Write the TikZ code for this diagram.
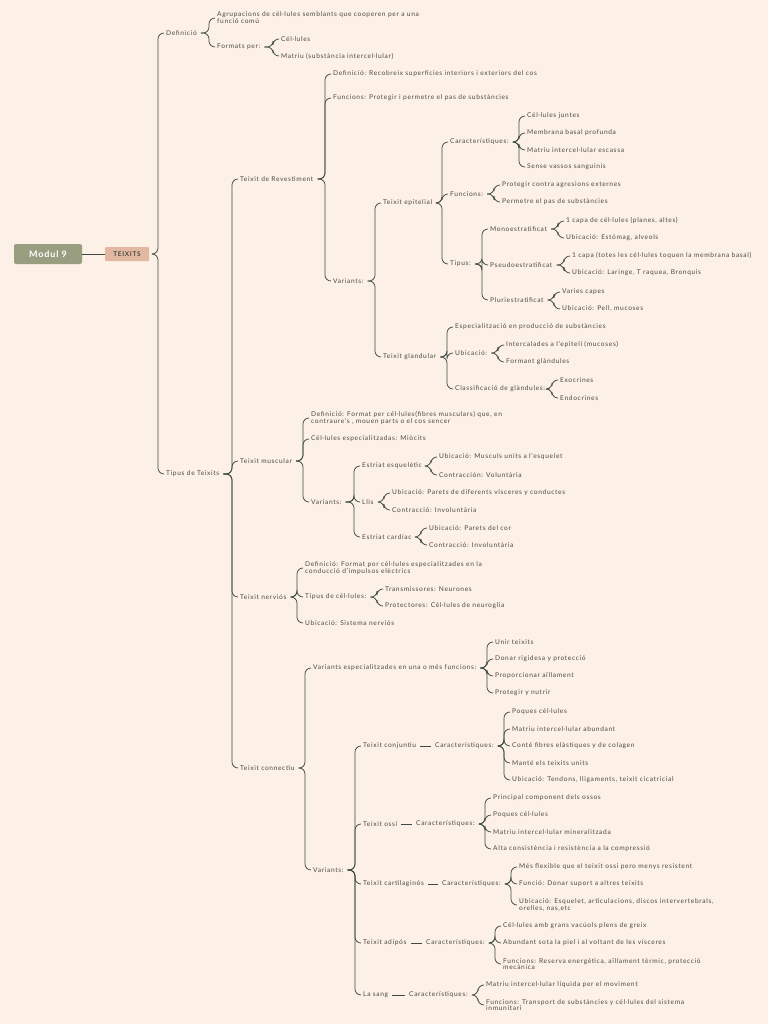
\documentclass[tikz,border=0pt]{standalone}
\usepackage{fontspec}
\setmainfont{Lato}[LetterSpace=10]
\usetikzlibrary{calc}
\definecolor{bg}{HTML}{FDF0E6}
\definecolor{ln}{HTML}{3B4A44}
\definecolor{tx}{HTML}{4A4A48}
\definecolor{olive}{HTML}{9A9E80}
\definecolor{peach}{HTML}{E2B9A0}
\tikzset{t/.style={anchor=west,inner sep=0pt,font=\fontsize{6.6}{6.8}\selectfont,text=tx,align=left},
conn/.style={draw=ln,line width=0.75pt,rounded corners=6pt}}
\newcommand\br[2]{\path (#2.west) ++(-8,0) coordinate (tmpA);
 \draw[conn] (#1.east) ++(4,0) -- (tmpA |- #1.east) |- ([xshift=-2]#2.west);}
\newcommand\brs[2]{\foreach \c in {#2}{\br{#1}{\c}}}
\newcommand\st[2]{\draw[conn] ([xshift=4]#1.east) -- ([xshift=-4]#2.west);}
\begin{document}
\begin{tikzpicture}[x=1pt,y=-1pt]
\fill[bg] (0,0) rectangle (768,1024);
\useasboundingbox (0,0) rectangle (768,1024);
\node[fill=olive,rounded corners=2pt,minimum width=68pt,minimum height=20pt,text=white,font=\fontsize{9}{10}\selectfont\bfseries] (m) at (48,254) {Modul 9};
\node[fill=peach,rounded corners=1pt,minimum width=44pt,minimum height=14pt,text=tx,font=\fontsize{6.5}{7}\selectfont\bfseries] (te) at (127,254) {TEIXITS};
\draw[conn] (m.east) -- (te.west);
% level 1
\node[t] (def) at (166,33) {Definició};
\node[t] (tip) at (166,474) {Tipus de Teixits};
\brs{te}{def,tip}
\node[t] (agr) at (217,18) {Agrupacions de cél·lules semblants que cooperen per a una\\funció comú};
\node[t] (fp) at (217,47) {Formats per:};
\brs{def}{agr,fp}
\node[t] (cel) at (281,39) {Cél·lules};
\node[t] (mat) at (281,56) {Matriu (substància intercel·lular)};
\brs{fp}{cel,mat}
% tipus
\node[t] (rev) at (240,179) {Teixit de Revestiment};
\node[t] (mus) at (240,461) {Teixit muscular};
\node[t] (ner) at (240,597) {Teixit nerviós};
\node[t] (con) at (240,768) {Teixit connectiu};
\brs{tip}{rev,mus,ner,con}
% revestiment
\node[t] (r1) at (333,74) {Definició: Recobreix superfícies interiors i exteriors del cos};
\node[t] (r2) at (333,98) {Funcions: Protegir i permetre el pas de substàncies};
\node[t] (r3) at (333,281) {Variants:};
\brs{rev}{r1,r2,r3}
\node[t] (epi) at (383,203) {Teixit epitelial};
\node[t] (gla) at (383,357) {Teixit glandular};
\brs{r3}{epi,gla}
\node[t] (ec) at (450,142) {Característiques:};
\node[t] (ef) at (450,194) {Funcions:};
\node[t] (et) at (450,264) {Tipus:};
\brs{epi}{ec,ef,et}
\node[t] (ec1) at (527,116) {Cél·lules juntes};
\node[t] (ec2) at (527,133) {Membrana basal profunda};
\node[t] (ec3) at (527,150) {Matriu intercel·lular escassa};
\node[t] (ec4) at (527,167) {Sense vassos sanguinis};
\brs{ec}{ec1,ec2,ec3,ec4}
\node[t] (ef1) at (502,185) {Protegir contra agresions externes};
\node[t] (ef2) at (502,202) {Permetre el pas de substàncies};
\brs{ef}{ef1,ef2}
\node[t] (mo) at (490,229) {Monoestratificat};
\node[t] (ps) at (490,265) {Pseudoestratificat};
\node[t] (pl) at (490,300) {Pluriestratificat};
\brs{et}{mo,ps,pl}
\node[t] (mo1) at (566,221) {1 capa de cél·lules (planes, altes)};
\node[t] (mo2) at (566,238) {Ubicació: Estómag, alveols};
\brs{mo}{mo1,mo2}
\node[t] (ps1) at (572,256) {1 capa (totes les cél·lules toquen la membrana basal)};
\node[t] (ps2) at (572,273) {Ubicació: Laringe, T raquea, Bronquis};
\brs{ps}{ps1,ps2}
\node[t] (pl1) at (562,292) {Varies capes};
\node[t] (pl2) at (562,309) {Ubicació: Pell, mucoses};
\brs{pl}{pl1,pl2}
\node[t] (g1) at (455,327) {Especialització en producció de substàncies};
\node[t] (g2) at (455,353) {Ubicació:};
\node[t] (g3) at (455,389) {Classificació de glàndules:};
\brs{gla}{g1,g2,g3}
\node[t] (g21) at (506,345) {Intercalades a l'epiteli (mucoses)};
\node[t] (g22) at (506,362) {Formant glàndules};
\brs{g2}{g21,g22}
\node[t] (g31) at (560,380) {Exocrines};
\node[t] (g32) at (560,398) {Endocrines};
\brs{g3}{g31,g32}
% muscular
\node[t] (m1) at (311,418) {Definició: Format per cél·lules(fibres musculars) que, en\\contraure's , mouen parts o el cos sencer};
\node[t] (m2) at (311,439) {Cél·lules especialitzadas: Miòcits};
\node[t] (m3) at (311,502) {Variants:};
\brs{mus}{m1,m2,m3}
\node[t] (es) at (362,466) {Estriat esquelètic};
\node[t] (ll) at (362,502) {Llis};
\node[t] (ca) at (362,537) {Estriat cardíac};
\brs{m3}{es,ll,ca}
\node[t] (es1) at (439,457) {Ubicació: Musculs units a l'esquelet};
\node[t] (es2) at (439,475) {Contracción: Voluntària};
\brs{es}{es1,es2}
\node[t] (ll1) at (392,493) {Ubicació: Parets de diferents vísceres y conductes};
\node[t] (ll2) at (392,510) {Contracció: Involuntària};
\brs{ll}{ll1,ll2}
\node[t] (ca1) at (429,528) {Ubicació: Parets del cor};
\node[t] (ca2) at (429,545) {Contracció: Involuntària};
\brs{ca}{ca1,ca2}
% nervios
\node[t] (n1) at (305,568) {Definició: Format por cél·lules especialitzades en la\\conducció d'impulsos elèctrics};
\node[t] (n2) at (305,597) {Tipus de cél·lules:};
\node[t] (n3) at (305,623) {Ubicació: Sistema nerviós};
\brs{ner}{n1,n2,n3}
\node[t] (n21) at (385,589) {Transmissores: Neurones};
\node[t] (n22) at (385,606) {Protectores: Cél·lules de neuroglia};
\brs{n2}{n21,n22}
% connectiu
\node[t] (c1) at (313,668) {Variants especialitzades en una o més funcions:};
\node[t] (c2) at (313,870) {Variants:};
\brs{con}{c1,c2}
\node[t] (c11) at (495,642) {Unir teixits};
\node[t] (c12) at (495,659) {Donar rigidesa y protecció};
\node[t] (c13) at (495,676) {Proporcionar aïllament};
\node[t] (c14) at (495,693) {Protegir y nutrir};
\brs{c1}{c11,c12,c13,c14}
\node[t] (cj) at (363,746) {Teixit conjuntiu};
\node[t] (os) at (363,824) {Teixit ossi};
\node[t] (ct) at (363,884) {Teixit cartilaginós};
\node[t] (ad) at (363,943) {Teixit adipós};
\node[t] (sa) at (363,995) {La sang};
\brs{c2}{cj,os,ct,ad,sa}
\node[t] (cjc) at (435,746) {Característiques:};
\node[t] (osc) at (416,824) {Característiques:};
\node[t] (ctc) at (442,884) {Característiques:};
\node[t] (adc) at (426,943) {Característiques:};
\node[t] (sac) at (409,995) {Característiques:};
\st{cj}{cjc}\st{os}{osc}\st{ct}{ctc}\st{ad}{adc}\st{sa}{sac}
\node[t] (cj1) at (512,712) {Poques cél·lules};
\node[t] (cj2) at (512,729) {Matriu intercel·lular abundant};
\node[t] (cj3) at (512,746) {Conté fibres elàstiques y de colagen};
\node[t] (cj4) at (512,763) {Manté els teixits units};
\node[t] (cj5) at (512,780) {Ubicació: Tendons, lligaments, teixit cicatricial};
\brs{cjc}{cj1,cj2,cj3,cj4,cj5}
\node[t] (os1) at (493,798) {Principal component dels ossos};
\node[t] (os2) at (493,815) {Poques cél·lules};
\node[t] (os3) at (493,832) {Matriu intercel·lular mineralitzada};
\node[t] (os4) at (493,849) {Alta consistència i resistència a la compressió};
\brs{osc}{os1,os2,os3,os4}
\node[t] (ct1) at (519,867) {Més flexible que el teixit ossi pero menys resistent};
\node[t] (ct2) at (519,884) {Funció: Donar suport a altres teixits};
\node[t] (ct3) at (519,905) {Ubicació: Esquelet, articulacions, discos intervertebrals,\\orelles, nas,etc};
\brs{ctc}{ct1,ct2,ct3}
\node[t] (ad1) at (503,926) {Cél·lules amb grans vacúols plens de greix};
\node[t] (ad2) at (503,943) {Abundant sota la piel i al voltant de les vísceres};
\node[t] (ad3) at (503,964) {Funcions: Reserva energètica, aïllament tèrmic, protecció\\mecànica};
\brs{adc}{ad1,ad2,ad3}
\node[t] (sa1) at (486,985) {Matriu intercel·lular líquida per el moviment};
\node[t] (sa2) at (486,1005) {Funcions: Transport de substàncies y cél·lules del sistema\\inmunitari};
\brs{sac}{sa1,sa2}
\end{tikzpicture}
\end{document}
